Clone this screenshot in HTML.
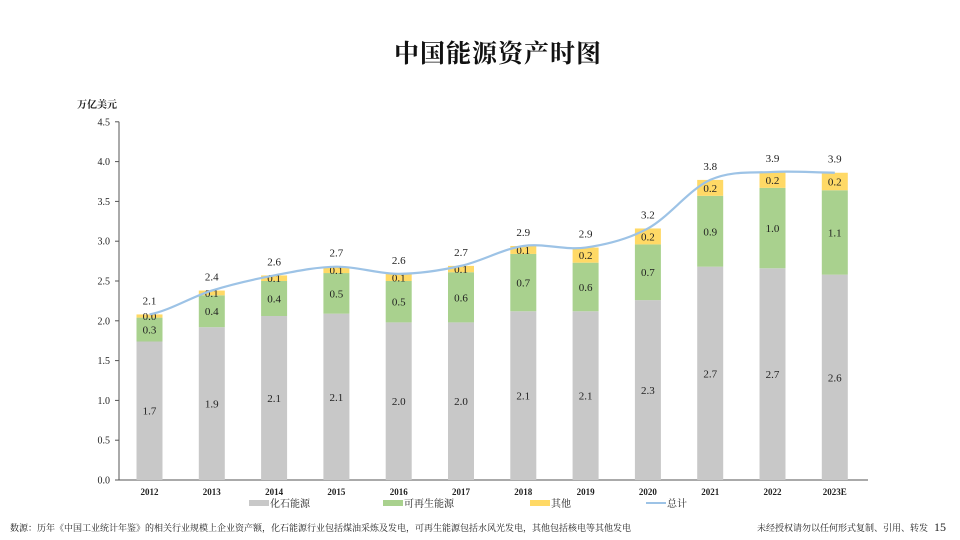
<!DOCTYPE html>
<html><head><meta charset="utf-8">
<style>
html,body{margin:0;padding:0;background:#fff;}
body{width:960px;height:540px;overflow:hidden;position:relative;font-family:"Liberation Serif","Noto Serif CJK SC",serif;}
#title{position:absolute;left:0;width:996px;top:34px;text-align:center;font-size:25px;font-weight:bold;color:#111;font-family:"Liberation Serif","Noto Serif CJK SC",serif;letter-spacing:1px;}
svg{position:absolute;left:0;top:0;}
</style></head>
<body>
<div id="title">中国能源资产时图</div>
<svg id="chart" width="960" height="540"></svg>
<script>
const categories=["2012","2013","2014","2015","2016","2017","2018","2019","2020","2021","2022","2023E"];
const fossil=[1.74,1.92,2.06,2.09,1.98,1.98,2.12,2.12,2.26,2.68,2.66,2.58];
const renew=[0.30,0.40,0.44,0.51,0.52,0.63,0.72,0.61,0.70,0.89,1.01,1.06];
const other=[0.04,0.06,0.07,0.08,0.09,0.08,0.10,0.19,0.20,0.20,0.20,0.22];
const yTicks=[0,0.5,1,1.5,2,2.5,3,3.5,4,4.5];

const NS="http://www.w3.org/2000/svg";
const svg=document.getElementById('chart');
const y0=480,yScale=79.6,x0=149.5,dx=62.3,bw=26;
function y(v){return y0-v*yScale;}
function x(i){return x0+i*dx;}
function mk(tag,attrs,parent){const e=document.createElementNS(NS,tag);for(const k in attrs)e.setAttribute(k,attrs[k]);(parent||svg).appendChild(e);return e;}
function txt(s,xx,yy,size,anchor,name,fam){const t=mk('text',{x:xx,y:yy,'font-size':size,'text-anchor':anchor,fill:'#222','font-family':fam||'"Liberation Serif","Noto Serif CJK SC",serif'});t.textContent=s;


return t;}

// axes
const ax=mk('line',{x1:119,y1:y(4.5),x2:119,y2:y0,stroke:'#555','stroke-width':1});


const xa=mk('line',{x1:119,y1:y0,x2:868,y2:y0,stroke:'#555','stroke-width':1});


yTicks.forEach(v=>{
  const tk=mk('line',{x1:115,y1:y(v),x2:119,y2:y(v),stroke:'#555'});
  
  
  txt(v.toFixed(1),110,y(v)+3.5,10,'end','y-tick-label');
});
txt('万亿美元',97,108,10,'middle','y-axis-title','"Liberation Serif","Noto Serif CJK SC",serif').setAttribute('font-weight','bold');

const totals=[];
categories.forEach((c,i)=>{
  const cx=x(i),t=fossil[i]+renew[i]+other[i];totals.push(t);
  const g=mk('rect',{x:cx-bw/2,y:y(fossil[i]),width:bw,height:fossil[i]*yScale,fill:'#c8c8c8'});
  
  
  const r=mk('rect',{x:cx-bw/2,y:y(fossil[i]+renew[i]),width:bw,height:renew[i]*yScale,fill:'#a9d18e'});
  
  
  const o=mk('rect',{x:cx-bw/2,y:y(t),width:bw,height:other[i]*yScale,fill:'#ffd966'});
  
  
  txt(fossil[i].toFixed(1),cx,y(fossil[i]/2)+4,11,'middle','label-fossil');
  txt(renew[i].toFixed(1),cx,y(fossil[i]+renew[i]/2)+4,11,'middle','label-renewable');
  txt(other[i].toFixed(1),cx,y(t-other[i]/2)+4,11,'middle','label-other');
  txt(t.toFixed(1),cx,y(t)-10,11,'middle','label-total');
  txt(c,cx,y0+15,9,'middle','x-tick-label').setAttribute('font-weight','bold');
});
// smooth total line
let d='M'+x(0)+','+y(totals[0]);
for(let i=1;i<totals.length;i++){
  const px=x(i-1),py=y(totals[i-1]),nx=x(i),ny=y(totals[i]);
  const pp=i>1?y(totals[i-2]):py,nn=i<totals.length-1?y(totals[i+1]):ny;
  const c1y=py+(ny-pp)/6,c2y=ny-(nn-py)/6;
  d+=' C'+(px+dx/3)+','+c1y+' '+(nx-dx/3)+','+c2y+' '+nx+','+ny;
}
const ln=mk('path',{d:d,fill:'none',stroke:'#9dc3e6','stroke-width':2.2});



// legend
const legend=[["化石能源","#c8c8c8",249,'rect'],["可再生能源","#a9d18e",383,'rect'],["其他","#ffd966",530,'rect'],["总计","#9dc3e6",646,'line']];
legend.forEach(l=>{
  if(l[3]==='rect'){const s=mk('rect',{x:l[2],y:500,width:20,height:6,fill:l[1]});
    
    }
  else{const s=mk('line',{x1:l[2],y1:503,x2:l[2]+20,y2:503,stroke:l[1],'stroke-width':2});
    
    }
  txt(l[0],l[2]+21,507,10,'start','legend-entry');
});
txt('数源：历年《中国工业统计年鉴》的相关行业规模上企业资产额，化石能源行业包括煤油采炼及发电，可再生能源包括水风光发电，其他包括核电等其他发电',10,531,9,'start','footnote-source');
txt('未经授权请勿以任何形式复制、引用、转发',757,531,9,'start','footnote-copyright');
txt('15',940,531,12,'middle','page-number');
</script>
</body></html>
